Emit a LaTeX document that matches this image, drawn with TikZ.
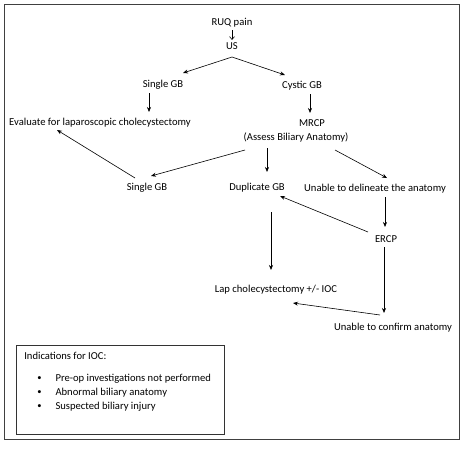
\documentclass[tikz,border=0pt]{standalone}
\usepackage{fontspec}
\setmainfont{Carlito}
\usetikzlibrary{arrows.meta}

\newcommand{\smallbul}{\raisebox{0.8pt}{\fontsize{8.5}{8}\selectfont\textbullet}}

\begin{document}
\begin{tikzpicture}[x=1pt, y=-1pt, font=\fontsize{10.6}{12.5}\selectfont,
        >={Stealth[length=5pt, width=4pt]}, line width=0.6pt,
        lbl/.style={text height=7pt, text depth=2pt}]
        \useasboundingbox (0,0) rectangle (463,450);
        \draw [line width=0.8pt, black!75] (4,4) rectangle (459,439);

        \node (1) [lbl] at (232,23) {RUQ pain};
        \node (2) [lbl] at (232,47) {US};
        \node (3) [lbl] at (163,85) {Single GB};
        \node (4) [lbl] at (302,86) {Cystic GB};
        \node (5) [lbl] at (100,123) {Evaluate for laparoscopic cholecystectomy};
        \node (6) [lbl] at (312,124) {MRCP};
        \node (7) [lbl] at (296,138) {(Assess Biliary Anatomy)};
        \node (8) [lbl] at (147,188) {Single GB};
        \node (9) [lbl] at (257,188) {Duplicate GB};
        \node (10) [lbl] at (375,189) {Unable to delineate the anatomy};
        \node (11) [lbl] at (386,240) {ERCP};
        \node (12) [lbl] at (276,290) {Lap cholecystectomy +/- IOC};
        \node (13) [lbl] at (393,328) {Unable to confirm anatomy};
        \node (14) [draw, black!80, text=black, inner xsep=8pt, inner ysep=0pt, anchor=north west] at (16,345)
            {\begin{minipage}[t][89pt][t]{192pt}
             \vspace*{7pt}Indications for IOC:\\[9pt]
             \hspace*{13pt}\smallbul\hspace{14pt}Pre-op investigations not performed\\[1.5pt]
             \hspace*{13pt}\smallbul\hspace{14pt}Abnormal biliary anatomy\\[1.5pt]
             \hspace*{13pt}\smallbul\hspace{14pt}Suspected biliary injury
             \end{minipage}};

        \path [-{Straight Barb[length=3pt, width=5pt]}] ([shift={(0,7)}]1.center) edge ([shift={(0,-7)}]2.center);
        \path [->] ([shift={(0,10)}]2.center) edge ([shift={(20,-12)}]3.center)
                   ([shift={(0,10)}]2.center) edge ([shift={(-17,-11)}]4.center)
                   ([shift={(-14,8)}]3.center) edge ([shift={(49,-11)}]5.center)
                   ([shift={(8,8)}]4.center) edge ([shift={(-2,-11)}]6.center)
                   ([shift={(-51,12)}]7.center) edge ([shift={(4,-12)}]8.center)
                   ([shift={(-29,10)}]7.center) edge ([shift={(10,-16)}]9.center)
                   ([shift={(39,12)}]7.center) edge ([shift={(12,-11)}]10.center)
                   ([shift={(-12,-10)}]8.center) edge ([shift={(-43,7)}]5.center)
                   ([shift={(10,8)}]10.center) edge ([shift={(-1,-13)}]11.center)
                   ([shift={(-18,-8)}]11.center) edge ([shift={(23,8)}]9.center)
                   ([shift={(14,24)}]9.center) edge ([shift={(-5,-20)}]12.center)
                   ([shift={(-2,7)}]11.center) edge ([shift={(-9,-15)}]13.center)
                   ([shift={(-13,-13)}]13.center) edge ([shift={(17,13)}]12.center);
\end{tikzpicture}
\end{document}
